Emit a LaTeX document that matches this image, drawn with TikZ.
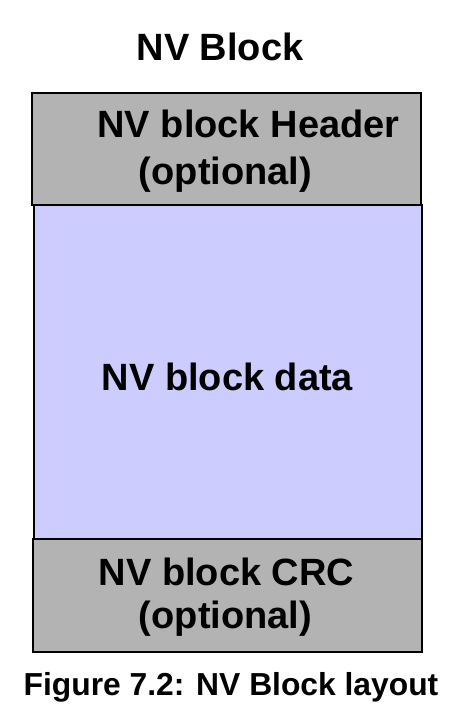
\documentclass[tikz,border=0pt]{standalone}
\usepackage{fontspec}
\setmainfont{Liberation Sans}
\definecolor{blockgray}{RGB}{179,179,179}
\definecolor{blockblue}{RGB}{204,204,255}

\begin{document}
\begin{tikzpicture}[x=1pt, y=-1pt,
                fieldbox/.style={rectangle, draw, line width=2.4pt, anchor=north west, inner sep=0pt},
                grayfield/.style={fieldbox, fill=blockgray},
                bluefield/.style={fieldbox, fill=blockblue},
                bigtext/.style={anchor=base, inner sep=0pt, font=\fontsize{38}{46}\selectfont\bfseries},
                captiontext/.style={anchor=base, inner sep=0pt, font=\fontsize{31.8}{38}\selectfont\bfseries},
            ]
            \useasboundingbox (0,0) rectangle (456,721);

            % Boxes
            \node[bluefield, minimum width=388pt, minimum height=334pt] (data)   at (33,204) {};
            \node[grayfield, minimum width=389pt, minimum height=112pt] (header) at (31,92)  {};
            \node[grayfield, minimum width=389pt, minimum height=113pt] (crc)    at (32,538) {};

            % Texts
            \node[bigtext]      (title)        at (220,60)    {NV Block};
            \node[bigtext]      (header_1)     at (248.5,137) {NV block Header};
            \node[bigtext]      (header_2)     at (225.5,184) {(optional)};
            \node[bigtext]      (data_text)    at (227.5,390) {NV block data};
            \node[bigtext]      (crc_1)        at (226.5,585) {NV block CRC};
            \node[bigtext]      (crc_2)        at (225.5,628) {(optional)};
            \node[captiontext]  (caption)      at (231,695)   {Figure 7.2: NV Block layout};
        \end{tikzpicture}
\end{document}
